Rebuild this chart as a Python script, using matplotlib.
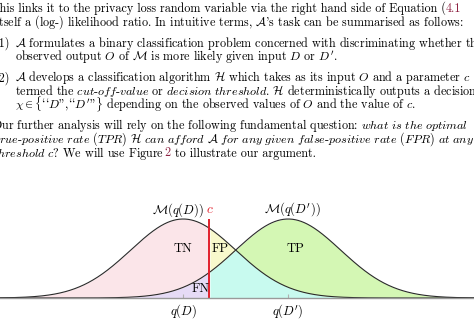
import numpy as np
import matplotlib
matplotlib.use('Agg')
import matplotlib.pyplot as plt

plt.rcParams['mathtext.fontset'] = 'cm'
plt.rcParams['font.family'] = 'cmr10'
plt.rcParams['axes.formatter.use_mathtext'] = True

W, H = 474, 329
FS = 8.74     # page text
CFS = 9.2     # chart text
LINK = '#8e2343'

# two output distributions (in units of sigma) and the threshold c
q_D = 0.0
q_Dp = 2.0
sigma = 1.0
c = 0.5
x_lo, x_hi = -3.49, 5.54

curve_labels = [r'$\mathcal{M}(q(D))$', r"$\mathcal{M}(q(D'))$"]
tick_labels = [r'$q(D)$', r"$q(D')$"]
region_names = ['TN', 'FP', 'FN', 'TP']

# text of the page, line by line: (x, baseline y, [(text, colour), ...])
page_lines = [
    (-5.0, 12.0, [(r"this links it to the privacy loss random variable via the right hand side of Equation (", 'k'),
                  ("4.1", LINK)]),
    (-5.0, 26.0, [(r"itself a (log-) likelihood ratio. In intuitive terms, $\mathcal{A}$'s task can be summarised as follows:", 'k')]),
    (-5.0, 47.0, [("(1)", 'k')]),
    (15.0, 47.0, [(r"$\mathcal{A}$ formulates a binary classification problem concerned with discriminating whether the", 'k')]),
    (15.0, 61.0, [(r"observed output $O$ of $\mathcal{M}$ is more likely given input $D$ or $D'$.", 'k')]),
    (-5.0, 81.5, [("(2)", 'k')]),
    (15.0, 81.5, [(r"$\mathcal{A}$ develops a classification algorithm $\mathcal{H}$ which takes as its input $O$ and a parameter $c$", 'k')]),
    (15.0, 95.0, [(r"termed the $\mathit{cut}$-$\mathit{off}$-$\mathit{value}$ or $\mathit{decision\ threshold}$. $\mathcal{H}$ deterministically outputs a decision", 'k')]),
    (15.0, 108.5, [(r"$\chi \in \{$``$D$" + '"' + r",``$D'$" + '"' + r"$\}$ depending on the observed values of $O$ and the value of $c$.", 'k')]),
    (-7.5, 129.5, [(r"Our further analysis will rely on the following fundamental question: $\mathit{what\ is\ the\ optimal}$", 'k')]),
    (-5.0, 143.0, [(r"$\mathit{true}$-$\mathit{positive\ rate}$ ($\mathit{TPR}$) $\mathcal{H}$ $\mathit{can\ afford}$ $\mathcal{A}$ $\mathit{for\ any\ given\ false}$-$\mathit{positive\ rate}$ ($\mathit{FPR}$) $\mathit{at\ any}$", 'k')]),
    (-7.0, 156.5, [(r"$\mathit{threshold}\ c$? We will use Figure ", 'k'), ("2", LINK),
                   (" to illustrate our argument.", 'k')]),
]


def pdf(x, mu):
    return np.exp(-0.5 * ((x - mu) / sigma) ** 2) / (sigma * np.sqrt(2 * np.pi))


fig = plt.figure(figsize=(W / 100, H / 100), dpi=100)
renderer = fig.canvas.get_renderer()

for x0, y0, parts in page_lines:
    x = x0
    for s, col in parts:
        t = fig.text(x / W, 1 - y0 / H, s, color=col, fontsize=FS,
                     ha='left', va='baseline')
        x += t.get_window_extent(renderer).width

# chart
ax = fig.add_axes([0, 31 / H, 1, 89.1 / H])
ax.set_xlim(x_lo, x_hi)
ax.set_ylim(0, 0.45)
ax.patch.set_visible(False)

x = np.linspace(x_lo, x_hi, 800)
f1 = pdf(x, q_D)
f2 = pdf(x, q_Dp)
left = x <= c
right = x >= c

ax.fill_between(x, f2, f1, where=left, color='#fbe5e9', lw=0)            # TN
ax.fill_between(x, 0, f2, where=left, color='#e6dbf6', lw=0)             # FN
ax.fill_between(x, f2, f1, where=right & (f1 > f2), color='#f8f9cc', lw=0)  # FP
ax.fill_between(x, 0, np.minimum(f1, f2), where=right, color='#c8faef', lw=0)
ax.fill_between(x, f1, f2, where=f2 > f1, color='#d4f7b4', lw=0)        # TP

ax.plot(x, f1, color='#2a2a2a', lw=0.8)
ax.plot(x, f2, color='#2a2a2a', lw=0.8)
ax.vlines(c, 0, pdf(q_D, q_D), color='#e2202c', lw=1.4)

for s in ['top', 'left', 'right']:
    ax.spines[s].set_visible(False)
ax.spines['bottom'].set_color('#9a9a9a')
ax.spines['bottom'].set_linewidth(1.0)
ax.set_yticks([])
ax.set_xticks([q_D, q_Dp])
ax.set_xticklabels(tick_labels, fontsize=CFS)
ax.tick_params(axis='x', direction='in', length=3, color='#b0b0b0', pad=3.0)

ax.text(q_D - 0.1, pdf(q_D, q_D) + 0.045, curve_labels[0], fontsize=CFS, ha='center', va='center')
ax.text(q_Dp + 0.08, pdf(q_Dp, q_Dp) + 0.05, curve_labels[1], fontsize=CFS, ha='center', va='center')
ax.text(c, pdf(q_D, q_D) + 0.045, r'$c$', color='#e2202c', fontsize=CFS + 0.5, ha='center', va='center')

ax.text(q_D, 0.25, region_names[0], fontsize=CFS, ha='center', va='center')
ax.text(0.70, 0.25, region_names[1], fontsize=CFS, ha='center', va='center')
ax.text(0.33, 0.045, region_names[2], fontsize=CFS, ha='center', va='center')
ax.text(2.13, 0.25, region_names[3], fontsize=CFS, ha='center', va='center')

fig.savefig('out.png', dpi=100)
